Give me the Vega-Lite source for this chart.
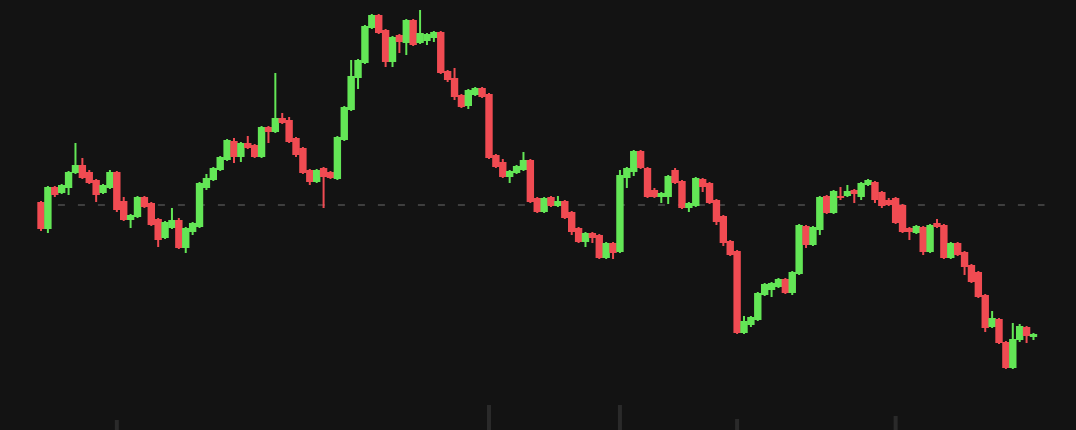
{
  "$schema": "https://vega.github.io/schema/vega-lite/v6.json",
  "width": 1076,
  "height": 430,
  "autosize": {"type": "none"},
  "padding": 0,
  "background": "#131313",
  "config": {"view": {"stroke": null}},
  "data": {"values": [
    {"day":0,"open":79.8,"close":77.1,"high":79.9,"low":76.9,"volume":0},
    {"day":1,"open":77.1,"close":81.3,"high":81.4,"low":76.7,"volume":0},
    {"day":2,"open":81.3,"close":80.5,"high":81.4,"low":80.3,"volume":0},
    {"day":3,"open":80.7,"close":81.5,"high":81.6,"low":80.6,"volume":0},
    {"day":4,"open":81.2,"close":82.8,"high":82.9,"low":80.5,"volume":0},
    {"day":5,"open":82.7,"close":83.5,"high":85.7,"low":82.6,"volume":0},
    {"day":6,"open":83.5,"close":82.2,"high":84.2,"low":82.1,"volume":0},
    {"day":7,"open":82.8,"close":81.7,"high":83.0,"low":81.6,"volume":0},
    {"day":8,"open":82.0,"close":80.5,"high":82.1,"low":79.8,"volume":0},
    {"day":9,"open":80.7,"close":81.5,"high":81.6,"low":80.6,"volume":0},
    {"day":10,"open":81.2,"close":82.8,"high":83.0,"low":81.1,"volume":0},
    {"day":11,"open":82.8,"close":79.0,"high":82.9,"low":78.8,"volume":10},
    {"day":12,"open":79.9,"close":78.0,"high":80.3,"low":77.9,"volume":0},
    {"day":13,"open":78.0,"close":78.5,"high":78.6,"low":77.2,"volume":0},
    {"day":14,"open":78.3,"close":80.3,"high":80.4,"low":78.2,"volume":0},
    {"day":15,"open":80.3,"close":79.3,"high":80.4,"low":79.2,"volume":0},
    {"day":16,"open":79.7,"close":77.5,"high":79.8,"low":77.4,"volume":0},
    {"day":17,"open":78.1,"close":76.0,"high":78.2,"low":75.3,"volume":0},
    {"day":18,"open":76.2,"close":77.8,"high":77.9,"low":76.1,"volume":0},
    {"day":19,"open":77.2,"close":78.0,"high":79.2,"low":77.1,"volume":0},
    {"day":20,"open":78.0,"close":75.2,"high":78.2,"low":75.1,"volume":0},
    {"day":21,"open":75.2,"close":77.2,"high":77.3,"low":74.7,"volume":0},
    {"day":22,"open":76.8,"close":77.7,"high":77.8,"low":76.5,"volume":0},
    {"day":23,"open":77.3,"close":81.7,"high":81.8,"low":77.2,"volume":0},
    {"day":24,"open":81.2,"close":82.2,"high":82.6,"low":81.0,"volume":0},
    {"day":25,"open":82.0,"close":83.2,"high":83.3,"low":81.9,"volume":0},
    {"day":26,"open":83.0,"close":84.3,"high":84.4,"low":82.9,"volume":0},
    {"day":27,"open":84.0,"close":86.0,"high":86.1,"low":83.9,"volume":0},
    {"day":28,"open":85.9,"close":84.3,"high":86.2,"low":83.7,"volume":0},
    {"day":29,"open":84.3,"close":85.7,"high":85.8,"low":83.8,"volume":0},
    {"day":30,"open":85.7,"close":85.2,"high":86.4,"low":85.1,"volume":0},
    {"day":31,"open":85.5,"close":84.3,"high":85.6,"low":84.2,"volume":0},
    {"day":32,"open":84.3,"close":87.3,"high":87.4,"low":84.2,"volume":0},
    {"day":33,"open":87.3,"close":86.8,"high":87.4,"low":85.7,"volume":0},
    {"day":34,"open":86.8,"close":88.2,"high":92.7,"low":86.7,"volume":0},
    {"day":35,"open":88.2,"close":87.7,"high":88.7,"low":87.6,"volume":0},
    {"day":36,"open":88.0,"close":85.8,"high":88.3,"low":85.7,"volume":0},
    {"day":37,"open":86.2,"close":84.5,"high":86.3,"low":84.3,"volume":0},
    {"day":38,"open":85.2,"close":82.7,"high":85.3,"low":82.6,"volume":0},
    {"day":39,"open":83.0,"close":81.8,"high":83.1,"low":81.5,"volume":0},
    {"day":40,"open":81.8,"close":83.0,"high":83.1,"low":81.7,"volume":0},
    {"day":41,"open":83.2,"close":82.3,"high":83.3,"low":79.2,"volume":0},
    {"day":42,"open":82.8,"close":82.2,"high":82.9,"low":82.1,"volume":0},
    {"day":43,"open":82.1,"close":86.3,"high":86.4,"low":82.0,"volume":0},
    {"day":44,"open":86.0,"close":89.3,"high":89.4,"low":85.9,"volume":0},
    {"day":45,"open":89.0,"close":92.4,"high":94.0,"low":88.9,"volume":0},
    {"day":46,"open":92.2,"close":94.0,"high":94.1,"low":91.1,"volume":0},
    {"day":47,"open":93.7,"close":97.4,"high":97.5,"low":93.6,"volume":0},
    {"day":48,"open":97.2,"close":98.5,"high":98.6,"low":97.1,"volume":0},
    {"day":49,"open":98.5,"close":96.7,"high":98.6,"low":96.6,"volume":0},
    {"day":50,"open":97.0,"close":93.8,"high":97.1,"low":93.3,"volume":0},
    {"day":51,"open":93.8,"close":96.3,"high":96.4,"low":93.3,"volume":0},
    {"day":52,"open":96.5,"close":95.8,"high":96.6,"low":94.7,"volume":0},
    {"day":53,"open":95.7,"close":98.0,"high":98.1,"low":94.5,"volume":0},
    {"day":54,"open":98.0,"close":95.5,"high":98.1,"low":95.4,"volume":0},
    {"day":55,"open":95.7,"close":96.7,"high":99.0,"low":95.6,"volume":0},
    {"day":56,"open":95.9,"close":96.6,"high":96.7,"low":95.5,"volume":0},
    {"day":57,"open":96.2,"close":96.8,"high":96.9,"low":95.8,"volume":0},
    {"day":58,"open":96.8,"close":92.7,"high":96.9,"low":92.6,"volume":0},
    {"day":59,"open":92.9,"close":92.0,"high":93.0,"low":91.8,"volume":0},
    {"day":60,"open":92.2,"close":90.3,"high":93.2,"low":90.0,"volume":0},
    {"day":61,"open":90.5,"close":89.3,"high":90.6,"low":89.2,"volume":0},
    {"day":62,"open":89.4,"close":91.0,"high":91.1,"low":89.1,"volume":0},
    {"day":63,"open":90.5,"close":91.2,"high":91.3,"low":90.4,"volume":0},
    {"day":64,"open":91.2,"close":90.3,"high":91.3,"low":90.2,"volume":0},
    {"day":65,"open":90.6,"close":84.2,"high":90.7,"low":84.1,"volume":25},
    {"day":66,"open":84.5,"close":83.3,"high":84.6,"low":83.2,"volume":0},
    {"day":67,"open":83.8,"close":82.3,"high":84.1,"low":82.2,"volume":0},
    {"day":68,"open":82.3,"close":82.9,"high":83.0,"low":81.7,"volume":0},
    {"day":69,"open":82.7,"close":83.4,"high":83.5,"low":82.6,"volume":0},
    {"day":70,"open":83.0,"close":84.0,"high":84.8,"low":82.9,"volume":0},
    {"day":71,"open":84.0,"close":79.8,"high":84.1,"low":79.7,"volume":0},
    {"day":72,"open":80.2,"close":78.8,"high":80.3,"low":78.7,"volume":0},
    {"day":73,"open":78.8,"close":80.2,"high":80.3,"low":78.7,"volume":0},
    {"day":74,"open":80.3,"close":79.4,"high":80.4,"low":79.3,"volume":0},
    {"day":75,"open":79.4,"close":79.9,"high":80.4,"low":79.3,"volume":0},
    {"day":76,"open":79.9,"close":78.2,"high":80.0,"low":78.1,"volume":0},
    {"day":77,"open":78.8,"close":76.8,"high":78.9,"low":76.5,"volume":0},
    {"day":78,"open":77.2,"close":75.8,"high":77.3,"low":75.7,"volume":0},
    {"day":79,"open":75.8,"close":76.7,"high":76.8,"low":75.3,"volume":0},
    {"day":80,"open":76.7,"close":76.2,"high":76.8,"low":75.7,"volume":0},
    {"day":81,"open":76.5,"close":74.2,"high":76.6,"low":74.1,"volume":0},
    {"day":82,"open":74.2,"close":75.7,"high":75.8,"low":74.1,"volume":0},
    {"day":83,"open":75.7,"close":74.7,"high":75.8,"low":74.1,"volume":0},
    {"day":84,"open":74.8,"close":82.5,"high":83.0,"low":74.7,"volume":25},
    {"day":85,"open":82.2,"close":83.2,"high":83.3,"low":81.2,"volume":0},
    {"day":86,"open":82.8,"close":84.9,"high":85.0,"low":82.4,"volume":0},
    {"day":87,"open":84.9,"close":83.2,"high":85.0,"low":83.1,"volume":0},
    {"day":88,"open":83.2,"close":80.3,"high":83.3,"low":80.2,"volume":0},
    {"day":89,"open":81.0,"close":80.3,"high":81.2,"low":80.2,"volume":0},
    {"day":90,"open":80.3,"close":80.7,"high":80.8,"low":79.7,"volume":0},
    {"day":91,"open":80.3,"close":82.4,"high":82.5,"low":79.6,"volume":0},
    {"day":92,"open":83.0,"close":81.7,"high":83.2,"low":81.6,"volume":0},
    {"day":93,"open":81.9,"close":79.2,"high":82.0,"low":79.1,"volume":0},
    {"day":94,"open":79.2,"close":79.7,"high":79.8,"low":78.8,"volume":0},
    {"day":95,"open":79.4,"close":82.2,"high":82.3,"low":79.3,"volume":0},
    {"day":96,"open":82.1,"close":81.3,"high":82.2,"low":80.8,"volume":0},
    {"day":97,"open":81.7,"close":79.7,"high":81.8,"low":79.6,"volume":0},
    {"day":98,"open":80.0,"close":77.8,"high":80.1,"low":77.5,"volume":0},
    {"day":99,"open":78.4,"close":75.7,"high":78.5,"low":75.4,"volume":0},
    {"day":100,"open":75.9,"close":74.5,"high":76.0,"low":74.4,"volume":0},
    {"day":101,"open":74.9,"close":66.7,"high":75.0,"low":66.6,"volume":11},
    {"day":102,"open":66.7,"close":67.9,"high":68.4,"low":66.6,"volume":0},
    {"day":103,"open":67.5,"close":68.3,"high":68.4,"low":67.3,"volume":0},
    {"day":104,"open":68.0,"close":70.7,"high":70.8,"low":67.9,"volume":0},
    {"day":105,"open":70.5,"close":71.6,"high":71.7,"low":70.4,"volume":0},
    {"day":106,"open":71.0,"close":71.7,"high":71.8,"low":70.3,"volume":0},
    {"day":107,"open":71.3,"close":72.1,"high":72.2,"low":71.2,"volume":0},
    {"day":108,"open":72.1,"close":70.7,"high":72.2,"low":70.6,"volume":0},
    {"day":109,"open":70.7,"close":72.8,"high":72.9,"low":70.5,"volume":0},
    {"day":110,"open":72.6,"close":77.5,"high":77.6,"low":72.5,"volume":0},
    {"day":111,"open":77.4,"close":75.5,"high":77.5,"low":75.2,"volume":0},
    {"day":112,"open":75.5,"close":77.3,"high":77.4,"low":75.4,"volume":0},
    {"day":113,"open":77.0,"close":80.3,"high":80.4,"low":76.5,"volume":0},
    {"day":114,"open":80.4,"close":78.7,"high":80.5,"low":78.6,"volume":0},
    {"day":115,"open":78.7,"close":80.9,"high":81.0,"low":78.6,"volume":0},
    {"day":116,"open":80.4,"close":80.2,"high":81.3,"low":80.0,"volume":0},
    {"day":117,"open":80.4,"close":80.9,"high":81.5,"low":80.3,"volume":0},
    {"day":118,"open":81.0,"close":80.6,"high":81.1,"low":79.7,"volume":0},
    {"day":119,"open":80.3,"close":81.7,"high":81.8,"low":80.0,"volume":0},
    {"day":120,"open":81.5,"close":82.0,"high":82.1,"low":81.4,"volume":0},
    {"day":121,"open":81.8,"close":80.0,"high":81.9,"low":79.7,"volume":0},
    {"day":122,"open":80.8,"close":79.4,"high":80.9,"low":79.2,"volume":0},
    {"day":123,"open":80.0,"close":79.5,"high":80.2,"low":79.4,"volume":0},
    {"day":124,"open":80.2,"close":77.7,"high":80.3,"low":77.6,"volume":14},
    {"day":125,"open":79.5,"close":76.8,"high":79.6,"low":76.7,"volume":0},
    {"day":126,"open":77.2,"close":76.8,"high":77.3,"low":76.0,"volume":0},
    {"day":127,"open":76.7,"close":77.4,"high":77.5,"low":76.6,"volume":0},
    {"day":128,"open":77.3,"close":74.8,"high":77.4,"low":74.5,"volume":0},
    {"day":129,"open":74.8,"close":77.5,"high":77.6,"low":74.7,"volume":0},
    {"day":130,"open":77.7,"close":77.3,"high":78.1,"low":77.2,"volume":0},
    {"day":131,"open":77.5,"close":74.2,"high":77.6,"low":74.1,"volume":0},
    {"day":132,"open":74.2,"close":75.7,"high":75.8,"low":74.1,"volume":0},
    {"day":133,"open":75.7,"close":74.5,"high":75.8,"low":74.4,"volume":0},
    {"day":134,"open":74.8,"close":73.3,"high":74.9,"low":72.5,"volume":0},
    {"day":135,"open":73.5,"close":71.8,"high":73.6,"low":71.7,"volume":0},
    {"day":136,"open":72.8,"close":70.3,"high":72.9,"low":70.2,"volume":0},
    {"day":137,"open":70.5,"close":67.2,"high":70.6,"low":66.8,"volume":0},
    {"day":138,"open":67.3,"close":68.2,"high":68.9,"low":67.2,"volume":0},
    {"day":139,"open":68.1,"close":65.7,"high":68.2,"low":65.6,"volume":0},
    {"day":140,"open":65.8,"close":63.2,"high":65.9,"low":63.1,"volume":0},
    {"day":141,"open":63.2,"close":66.1,"high":67.7,"low":63.1,"volume":0},
    {"day":142,"open":66.0,"close":67.4,"high":67.6,"low":65.8,"volume":0},
    {"day":143,"open":67.3,"close":66.4,"high":67.4,"low":65.7,"volume":0},
    {"day":144,"open":66.3,"close":66.6,"high":66.7,"low":66.0,"volume":0}
  ]},
  "resolve": {"scale": {"y": "independent"}},
  "layer": [
    {
      "mark": {"type": "bar", "size": 4, "color": "#2a2a2a"},
      "encoding": {
        "x": {"field": "day", "type": "quantitative", "scale": {"domain": [-5.95, 150.17], "nice": false, "zero": false, "padding": 0}, "axis": null},
        "y": {"field": "volume", "type": "quantitative", "scale": {"domain": [0, 430], "nice": false}, "axis": null}
      }
    },
    {
      "data": {"values": [{"level": 79.5}]},
      "mark": {"type": "rule", "strokeDash": [7, 13], "color": "#6a6a6a", "strokeWidth": 1},
      "encoding": {
        "x": {"datum": -0.45, "type": "quantitative", "scale": {"domain": [-5.95, 150.17], "nice": false, "zero": false, "padding": 0}, "axis": null},
        "x2": {"datum": 145.6},
        "y": {"field": "level", "type": "quantitative", "scale": {"domain": [57, 100], "nice": false, "zero": false}, "axis": null}
      }
    },
    {
      "mark": {"type": "rule", "strokeWidth": 2},
      "encoding": {
        "x": {"field": "day", "type": "quantitative", "scale": {"domain": [-5.95, 150.17], "nice": false, "zero": false, "padding": 0}, "axis": null},
        "y": {"field": "low", "type": "quantitative", "scale": {"domain": [57, 100], "nice": false, "zero": false}, "axis": null},
        "y2": {"field": "high"},
        "color": {"condition": {"test": "datum.close >= datum.open", "value": "#63E656"}, "value": "#F04B52"}
      }
    },
    {
      "mark": {"type": "bar", "size": 7.4},
      "encoding": {
        "x": {"field": "day", "type": "quantitative", "scale": {"domain": [-5.95, 150.17], "nice": false, "zero": false, "padding": 0}, "axis": null},
        "y": {"field": "open", "type": "quantitative", "scale": {"domain": [57, 100], "nice": false, "zero": false}, "axis": null},
        "y2": {"field": "close"},
        "color": {"condition": {"test": "datum.close >= datum.open", "value": "#63E656"}, "value": "#F04B52"}
      }
    }
  ]
}
